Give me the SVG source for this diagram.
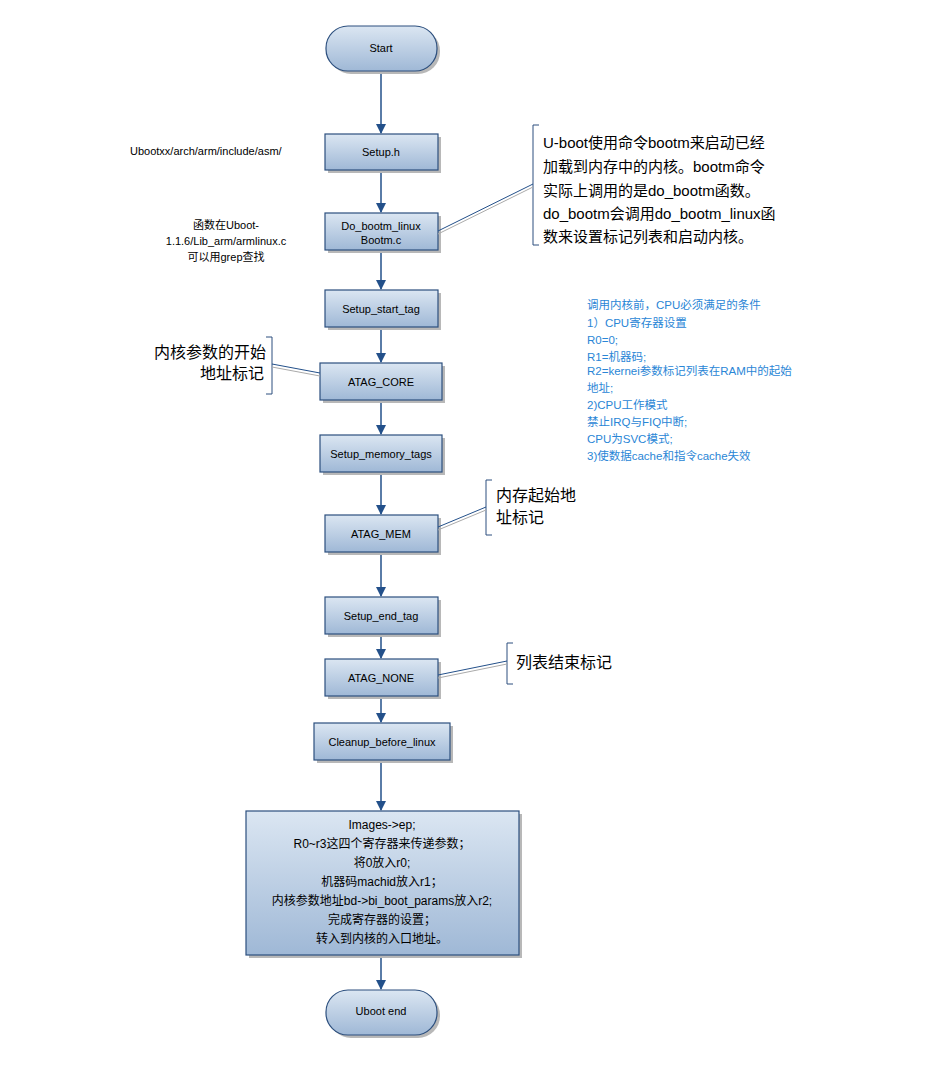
<svg xmlns="http://www.w3.org/2000/svg" width="943" height="1067" viewBox="0 0 943 1067">
<defs>
<linearGradient id="g" x1="0" y1="0" x2="0" y2="1"><stop offset="0" stop-color="#dbe6f2"/><stop offset="1" stop-color="#9fb8d6"/></linearGradient>
<marker id="a" markerWidth="10" markerHeight="10" refX="9" refY="5" orient="auto" markerUnits="userSpaceOnUse"><path d="M0,0 L10,5 L0,10 z" fill="#23508a"/></marker>
<style>
.n{fill:url(#g);stroke:#2c4f7e;stroke-width:1.2}
.s{fill:#b8b8b8}
.t{font-family:"Liberation Sans","Noto Sans CJK SC",sans-serif;font-size:11px;fill:#000;text-anchor:middle}
.c{stroke:#23508a;stroke-width:1.5;fill:none}
.b{stroke:#2c4f7e;stroke-width:1;fill:none}
.g2{stroke:#aaa;stroke-width:1;fill:none}
.an{font-family:"Liberation Sans","Noto Sans CJK SC",sans-serif;font-size:15px;fill:#000}
.bl{font-family:"Liberation Sans","Noto Sans CJK SC",sans-serif;font-size:11.5px;fill:#2a86d6}
.sm{font-family:"Liberation Sans","Noto Sans CJK SC",sans-serif;font-size:11px;fill:#000}
</style>
</defs>
<rect width="943" height="1067" fill="#fff"/>
<g id="connectors">
<line class="c" x1="381" y1="71" x2="381" y2="133" marker-end="url(#a)"/>
<line class="c" x1="381" y1="170" x2="381" y2="212" marker-end="url(#a)"/>
<line class="c" x1="381" y1="250" x2="381" y2="289" marker-end="url(#a)"/>
<line class="c" x1="381" y1="327" x2="381" y2="362" marker-end="url(#a)"/>
<line class="c" x1="381" y1="400" x2="381" y2="434" marker-end="url(#a)"/>
<line class="c" x1="381" y1="472" x2="381" y2="514" marker-end="url(#a)"/>
<line class="c" x1="381" y1="552" x2="381" y2="596" marker-end="url(#a)"/>
<line class="c" x1="381" y1="634" x2="381" y2="658" marker-end="url(#a)"/>
<line class="c" x1="381" y1="696" x2="381" y2="722" marker-end="url(#a)"/>
<line class="c" x1="381" y1="760" x2="381" y2="810" marker-end="url(#a)"/>
<line class="c" x1="381" y1="955" x2="381" y2="989" marker-end="url(#a)"/>
</g>
<g id="start"><rect class="s" x="329" y="29" width="111" height="45" rx="22"/><rect class="n" x="326" y="26" width="111" height="45" rx="22"/><text class="t" x="381" y="52">Start</text></g>
<g id="setuph"><rect class="s" x="328" y="137" width="113" height="36"/><rect class="n" x="325" y="134" width="113" height="36"/><text class="t" x="381" y="156">Setup.h</text></g>
<g id="dobootm"><rect class="s" x="328" y="216" width="113" height="37"/><rect class="n" x="325" y="213" width="113" height="37"/><text class="t" x="381" y="230">Do_bootm_linux</text><text class="t" x="381" y="244">Bootm.c</text></g>
<g id="starttag"><rect class="s" x="328" y="293" width="113" height="37"/><rect class="n" x="325" y="290" width="113" height="37"/><text class="t" x="381" y="313">Setup_start_tag</text></g>
<g id="core"><rect class="s" x="323" y="366" width="122" height="37"/><rect class="n" x="320" y="363" width="122" height="37"/><text class="t" x="381" y="386">ATAG_CORE</text></g>
<g id="memtags"><rect class="s" x="323" y="438" width="122" height="37"/><rect class="n" x="320" y="435" width="122" height="37"/><text class="t" x="381" y="458">Setup_memory_tags</text></g>
<g id="mem"><rect class="s" x="328" y="518" width="113" height="37"/><rect class="n" x="325" y="515" width="113" height="37"/><text class="t" x="381" y="538">ATAG_MEM</text></g>
<g id="endtag"><rect class="s" x="328" y="600" width="113" height="37"/><rect class="n" x="325" y="597" width="113" height="37"/><text class="t" x="381" y="620">Setup_end_tag</text></g>
<g id="none"><rect class="s" x="328" y="662" width="113" height="37"/><rect class="n" x="325" y="659" width="113" height="37"/><text class="t" x="381" y="682">ATAG_NONE</text></g>
<g id="cleanup"><rect class="s" x="317" y="726" width="136" height="37"/><rect class="n" x="314" y="723" width="136" height="37"/><text class="t" x="382" y="746">Cleanup_before_linux</text></g>
<g id="big"><rect class="s" x="249" y="814" width="273" height="144"/><rect class="n" x="246" y="811" width="273" height="144"/>
<g class="t" style="font-size:12px"><text x="382" y="829">Images-&gt;ep;</text><text x="382" y="848">R0~r3这四个寄存器来传递参数；</text><text x="382" y="867">将0放入r0;</text><text x="382" y="886">机器码machid放入r1；</text><text x="382" y="905">内核参数地址bd-&gt;bi_boot_params放入r2;</text><text x="382" y="924">完成寄存器的设置；</text><text x="382" y="943">转入到内核的入口地址。</text></g></g>
<g id="end"><rect class="s" x="329" y="993" width="111" height="45" rx="22"/><rect class="n" x="326" y="990" width="111" height="45" rx="22"/><text class="t" x="381" y="1015">Uboot end</text></g>
<g id="note1">
<path class="b" d="M539,125 H533 V245 H539"/>
<line class="c" style="stroke-width:1" x1="438" y1="231" x2="533" y2="184"/><line class="g2" x1="438" y1="234" x2="533" y2="187"/>
<text class="an" x="543" y="148">U-boot使用命令bootm来启动已经</text><text class="an" x="543" y="172">加载到内存中的内核。bootm命令</text><text class="an" x="543" y="196">实际上调用的是do_bootm函数。</text><text class="an" x="543" y="219">do_bootm会调用do_bootm_linux函</text><text class="an" x="543" y="242">数来设置标记列表和启动内核。</text>
</g>
<g id="note2">
<path class="b" d="M266,337 H272 V394 H266"/>
<line class="c" style="stroke-width:1" x1="320" y1="373" x2="272" y2="364"/><line class="g2" x1="320" y1="376" x2="272" y2="367"/>
<text class="an" x="266" y="358" text-anchor="end" style="font-size:16px">内核参数的开始</text><text class="an" x="264" y="379" text-anchor="end" style="font-size:16px">地址标记</text>
</g>
<g id="note3">
<path class="b" d="M492,480 H486 V535 H492"/>
<line class="c" style="stroke-width:1" x1="438" y1="527" x2="486" y2="507"/><line class="g2" x1="438" y1="530" x2="486" y2="510"/>
<text class="an" x="496" y="501" style="font-size:16px">内存起始地</text><text class="an" x="496" y="523" style="font-size:16px">址标记</text>
</g>
<g id="note4">
<path class="b" d="M513,643 H507 V684 H513"/>
<line class="c" style="stroke-width:1" x1="438" y1="675" x2="507" y2="661"/><line class="g2" x1="438" y1="678" x2="507" y2="664"/>
<text class="an" x="516" y="668" style="font-size:16px">列表结束标记</text>
</g>
<g id="cond" class="bl">
<text x="587" y="309">调用内核前，CPU必须满足的条件</text><text x="587" y="327">1）CPU寄存器设置</text><text x="587" y="344">R0=0;</text><text x="587" y="361">R1=机器码;</text><text x="587" y="375">R2=kernei参数标记列表在RAM中的起始</text><text x="587" y="392">地址;</text><text x="587" y="409">2)CPU工作模式</text><text x="587" y="426">禁止IRQ与FIQ中断;</text><text x="587" y="443">CPU为SVC模式;</text><text x="587" y="460">3)使数据cache和指令cache失效</text>
</g>
<g id="left">
<text class="sm" x="130" y="155">Ubootxx/arch/arm/include/asm/</text>
<text class="sm" x="226" y="229" text-anchor="middle">函数在Uboot-</text><text class="sm" x="226" y="245" text-anchor="middle">1.1.6/Lib_arm/armlinux.c</text><text class="sm" x="226" y="261" text-anchor="middle">可以用grep查找</text>
</g>
</svg>
